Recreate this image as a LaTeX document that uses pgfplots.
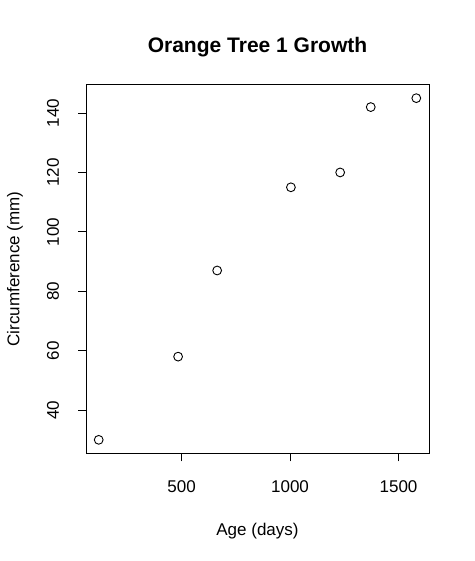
\documentclass[border=0pt]{standalone}
\usepackage{pgfplots}
\pgfplotsset{compat=1.18}
\usepackage{fontspec}
\setmainfont{Liberation Sans}
\begin{document}
\begin{tikzpicture}
\path[use as bounding box] (0,0) rectangle (474pt,561pt);
\begin{axis}[
  at={(86pt,107.5pt)}, anchor=south west,
  scale only axis, width=343pt, height=369pt,
  xmin=59.44, xmax=1640.56, ymin=25.4, ymax=149.6,
  xtick={500,1000,1500}, ytick={40,60,80,100,120,140},
  xtick pos=left, ytick pos=left, tick align=outside,
  major tick length=8pt,
  axis line style={line width=0.8pt}, every tick/.style={black, line width=0.8pt},
  /pgf/number format/assume math mode=true,
  /pgf/number format/1000 sep={},
  tick label style={font=\fontsize{17}{20}\selectfont},
  xticklabel style={anchor=center}, xticklabel shift=25pt,
  yticklabel style={rotate=90, anchor=center}, yticklabel shift=25pt,
  xlabel={Age (days)}, ylabel={Circumference (mm)},
  label style={font=\fontsize{17}{20}\selectfont},
  xlabel style={at={(axis description cs:0.5,-0.21)}, anchor=center},
  ylabel style={at={(axis description cs:-0.207,0.5)}, anchor=center},
  title={Orange Tree 1 Growth},
  title style={font=\fontsize{21}{24}\selectfont\bfseries, at={(axis description cs:0.5,1.085)}, anchor=center},
]
\addplot[only marks, mark=o, mark size=4.4pt, mark options={line width=0.9pt, black}] coordinates {
(118,30) (484,58) (664,87) (1004,115) (1231,120) (1372,142) (1582,145)
};
\end{axis}
\end{tikzpicture}
\end{document}
